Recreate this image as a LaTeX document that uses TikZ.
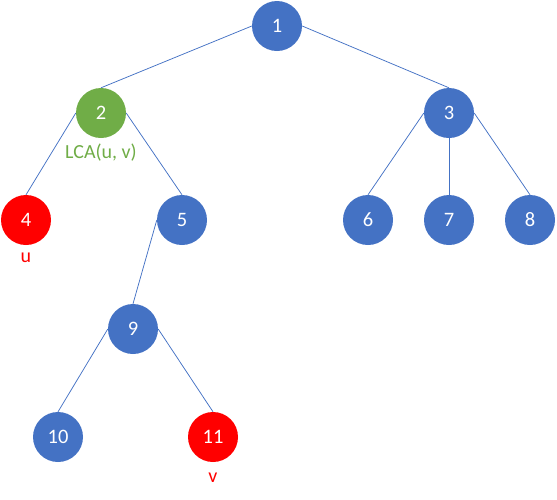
\documentclass[tikz,border=0pt]{standalone}
\usepackage{fontspec}
\setmainfont{Carlito}
\usepackage{xcolor}
\usetikzlibrary{positioning}
\definecolor{nodeblue}{HTML}{4472C4}
\definecolor{lcagreen}{HTML}{70AD47}
\definecolor{markred}{HTML}{FF0000}

\begin{document}
\begin{tikzpicture}[x=1pt,y=-1pt,
    vert/.style={circle,fill=nodeblue,minimum size=50pt,inner sep=0pt,text=white,font=\fontsize{20.5}{24}\selectfont},
    lca/.style={vert,fill=lcagreen},
    endpt/.style={vert,fill=markred},
    edge/.style={draw=nodeblue,line width=0.75pt},
    tag/.style={font=\fontsize{20}{24}\selectfont,inner sep=0pt}]
        \useasboundingbox (0,0) rectangle (557,499);
        \node[vert] (n1) at (277,26) {1};
        \node[lca] (n2) at (101,113) {2};
        \node[vert] (n3) at (449,113) {3};
        \node[endpt] (n4) at (26,220) {4};
        \node[vert] (n5) at (182,220) {5};
        \node[vert] (n6) at (368,220) {6};
        \node[vert] (n7) at (449,220) {7};
        \node[vert] (n8) at (530,220) {8};
        \node[vert] (n9) at (133,329) {9};
        \node[vert] (n10) at (58,437) {10};
        \node[endpt] (n11) at (213,437) {11};
        \draw[edge] (n1.west) -- (n2.north);
        \draw[edge] (n1.east) -- (n3.north);
        \draw[edge] (n2.west) -- (n4.north);
        \draw[edge] (n2.east) -- (n5.north);
        \draw[edge] (n3.west) -- (n6.north);
        \draw[edge] (n3.south) -- (n7.north);
        \draw[edge] (n3.east) -- (n8.north);
        \draw[edge] (n5.west) -- (n9.north);
        \draw[edge] (n9.west) -- (n10.north);
        \draw[edge] (n9.east) -- (n11.north);
        \node[tag,text=lcagreen,below=20pt of n2.south,anchor=base] (lcalbl) {LCA(u, v)};
        \node[tag,text=markred,below=17pt of n4.south,anchor=base] (ulbl) {u};
        \node[tag,text=markred,below=20pt of n11.south,anchor=base] (vlbl) {v};
    \end{tikzpicture}
\end{document}
